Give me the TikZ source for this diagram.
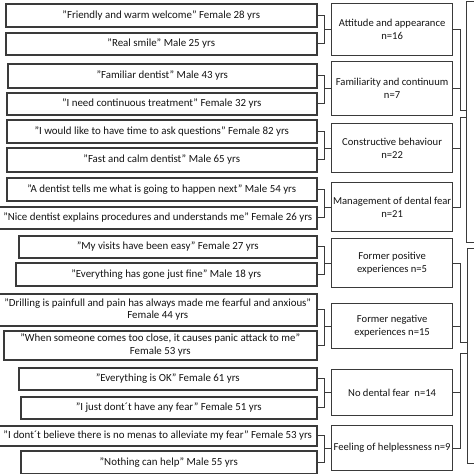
\documentclass[tikz,border=0pt]{standalone}
\usepackage{fontspec}
\setmainfont{Carlito}
\usepackage{tikz}
\usetikzlibrary{positioning}
\definecolor{BoxLine}{HTML}{3A3A3A}
\definecolor{TextGrey}{HTML}{141414}

\begin{document}
\begin{tikzpicture}[x=1pt,y=-1pt,
    quote/.style={draw=BoxLine,line width=1.5pt,anchor=north west,align=center,
      inner sep=1pt,font=\fontsize{10.9}{12.5}\selectfont,text=TextGrey},
    theme/.style={draw=BoxLine,line width=1.2pt,anchor=north west,minimum width=121pt,
      align=center,inner sep=1pt,font=\fontsize{10.6}{13}\selectfont,text=TextGrey},
    main/.style={draw=BoxLine,line width=1.2pt,anchor=north west,minimum width=60pt},
    conn/.style={draw=BoxLine,line width=1.1pt}
  ]
    \clip (0,0) rectangle (474,474);
    \fill[white] (0,0) rectangle (474,474);
    % quotations
    \node[quote,minimum width=311pt,minimum height=23pt] (q1) at (5,3) {"Friendly and warm welcome" Female 28 yrs};
    \node[quote,minimum width=311pt,minimum height=22pt] (q2) at (5,32) {"Real smile" Male 25 yrs};
    \node[quote,minimum width=309pt,minimum height=24pt] (q3) at (7,63) {"Familiar dentist" Male 43 yrs};
    \node[quote,minimum width=310pt,minimum height=22pt] (q4) at (6,92) {"I need continuous treatment" Female 32 yrs};
    \node[quote,minimum width=310pt,minimum height=23pt] (q5) at (6,119) {"I would like to have time to ask questions" Female 82 yrs};
    \node[quote,minimum width=310pt,minimum height=24pt] (q6) at (6,147) {"Fast and calm dentist" Male 65 yrs};
    \node[quote,minimum width=310pt,minimum height=23pt] (q7) at (6,177) {"A dentist tells me what is going to happen next" Male 54 yrs};
    \node[quote,minimum width=318pt,minimum height=22pt] (q8) at (-2,206) {"Nice dentist explains procedures and understands me" Female 26 yrs};
    \node[quote,minimum width=298pt,minimum height=22pt] (q9) at (18,235) {"My visits have been easy" Female 27 yrs};
    \node[quote,minimum width=301pt,minimum height=23pt] (q10) at (15,262) {"Everything has gone just fine" Male 18 yrs};
    \node[quote,minimum width=318pt,minimum height=32pt] (q11) at (-2,293) {"Drilling is painfull and pain has always made me fearful and anxious"\\Female 44 yrs};
    \node[quote,minimum width=313pt,minimum height=29pt] (q12) at (3,330) {"When someone comes too close, it causes panic attack to me"\\Female 53 yrs};
    \node[quote,minimum width=298pt,minimum height=22pt] (q13) at (18,367) {"Everything is OK" Female 61 yrs};
    \node[quote,minimum width=296pt,minimum height=22pt] (q14) at (20,396) {"I just dont´t have any fear" Female 51 yrs};
    \node[quote,minimum width=318pt,minimum height=20pt] (q15) at (-2,425) {"I dont´t believe there is no menas to alleviate my fear" Female 53 yrs};
    \node[quote,minimum width=296pt,minimum height=23pt] (q16) at (20,450) {"Nothing can help" Male 55 yrs};
    % themes
    \node[theme,minimum height=52pt] (cA) at (331,3) {Attitude and appearance\\n=16};
    \node[theme,minimum height=54pt] (cB) at (331,61) {Familiarity and continuum\\n=7};
    \node[theme,minimum height=49pt] (cC) at (331,123) {Constructive behaviour\\n=22};
    \node[theme,minimum height=49pt] (cD) at (331,182) {Management of dental fear\\n=21};
    \node[theme,minimum height=49pt] (cE) at (331,238) {Former positive\\experiences n=5};
    \node[theme,minimum height=45pt] (cF) at (331,303) {Former negative\\experiences n=15};
    \node[theme,minimum height=46pt] (cG) at (331,369) {No dental fear~~n=14};
    \node[theme,minimum height=45pt] (cH) at (331,425) {Feeling of helplessness n=9};
    % main categories (cut off at the right)
    \node[main,minimum height=241pt] (bigA) at (466,1) {};
    \node[main,minimum height=215pt] (bigB) at (467,248) {};
    % quotation -> theme
    \draw[conn] (q1.east) -- ++(7,0) |- (cA.west);
    \draw[conn] (q2.east) -- ++(7,0) |- (cA.west);
    \draw[conn] (q3.east) -- ++(7,0) |- (cB.west);
    \draw[conn] (q4.east) -- ++(7,0) |- (cB.west);
    \draw[conn] (q5.east) -- ++(7,0) |- (cC.west);
    \draw[conn] (q6.east) -- ++(7,0) |- (cC.west);
    \draw[conn] (q7.east) -- ++(7,0) |- (cD.west);
    \draw[conn] (q8.east) -- ++(7,0) |- (cD.west);
    \draw[conn] (q9.east) -- ++(7,0) |- (cE.west);
    \draw[conn] (q10.east) -- ++(7,0) |- (cE.west);
    \draw[conn] (q11.east) -- ++(7,0) |- (cF.west);
    \draw[conn] (q12.east) -- ++(7,0) |- (cF.west);
    \draw[conn] (q13.east) -- ++(7,0) |- (cG.west);
    \draw[conn] (q14.east) -- ++(7,0) |- (cG.west);
    \draw[conn] (q15.east) -- ++(7,0) |- (cH.west);
    \draw[conn] (q16.east) -- ++(7,0) |- (cH.west);
    % theme -> main category
    \draw[conn] (cA.east) -- ++(7,0) |- ([yshift=12pt]bigA.west);
    \draw[conn] (cB.east) -- ++(7,0) |- ([yshift=12pt]bigA.west);
    \draw[conn] (cC.east) -- ++(7,0) |- ([yshift=5pt]bigA.west);
    \draw[conn] (cD.east) -- ++(7,0) |- ([yshift=5pt]bigA.west);
    \draw[conn] (cE.east) -- ++(7,0) |- ([yshift=14pt]bigB.west);
    \draw[conn] (cF.east) -- ++(7,0) |- ([yshift=14pt]bigB.west);
    \draw[conn] (cG.east) -- ++(7,0) |- ([yshift=3pt]bigB.west);
    \draw[conn] (cH.east) -- ++(7,0) |- ([yshift=3pt]bigB.west);
\end{tikzpicture}
\end{document}
